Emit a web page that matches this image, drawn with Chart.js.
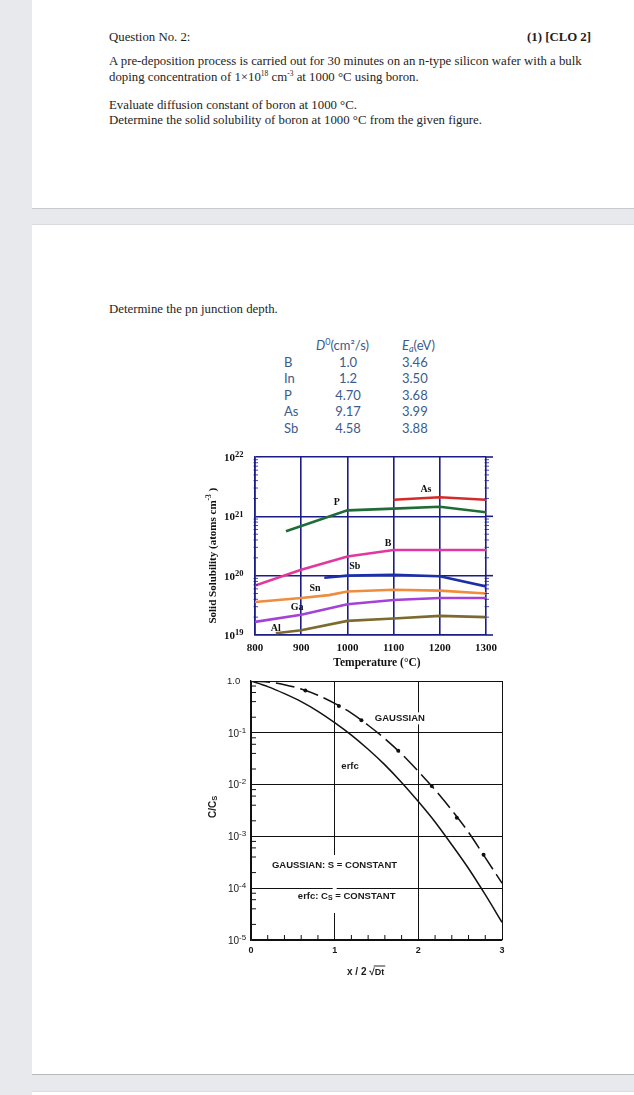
<!DOCTYPE html>
<html>
<head>
<meta charset="utf-8">
<script src="https://cdn.jsdelivr.net/npm/chart.js@4.4.0/dist/chart.umd.min.js"></script>
<style>
  html, body { margin: 0; padding: 0; }
  body { width: 634px; height: 1095px; overflow: hidden; background: #fff; position: relative; }
  .strip { position: absolute; left: 0; top: 0; width: 32px; height: 1095px; background: #e8e9ec; }
  .band { position: absolute; left: 32px; width: 602px; background: #e8e9ec; }
  .t { position: absolute; font-family: "Liberation Serif", serif; font-size: 12.8px; line-height: 15px; color: #1e1e1e; white-space: nowrap; }
  .t sup { font-size: 7.5px; vertical-align: 5px; line-height: 0; }
  .tb { position: absolute; font-family: "Lato", sans-serif; font-size: 13px; line-height: 16px; color: #3b5b8c; white-space: nowrap; }
  .tb sup { font-size: 9px; vertical-align: 5px; line-height: 0; }
  .tb sub { font-size: 9px; vertical-align: -2px; line-height: 0; }
  canvas { position: absolute; }
</style>
</head>
<body>
<div class="strip"></div>
<div class="band" style="top:208px;height:15px;border-top:1px solid #c8c9cc;border-bottom:1px solid #d9dadd;"></div>
<div class="band" style="top:1074px;height:16px;border-top:1px solid #b8b9bc;border-bottom:1px solid #dcdde0;"></div>

<div class="t" style="left:109px;top:30px;">Question No. 2:</div>
<div class="t" style="right:43px;top:30px;font-weight:bold;">(1) [CLO 2]</div>
<div class="t" style="left:109px;top:54px;">A pre-deposition process is carried out for 30 minutes on an n-type silicon wafer with a bulk</div>
<div class="t" style="left:109px;top:70px;">doping concentration of 1×10<sup>18</sup> cm<sup>-3</sup> at 1000 °C using boron.</div>
<div class="t" style="left:109px;top:98px;">Evaluate diffusion constant of boron at 1000 °C.</div>
<div class="t" style="left:109px;top:113px;">Determine the solid solubility of boron at 1000 °C from the given figure.</div>
<div class="t" style="left:109px;top:302px;">Determine the pn junction depth.</div>

<div id="tbl"></div>

<canvas id="c1" width="300" height="240" style="left:200px;top:440px;"></canvas>
<canvas id="c2" width="310" height="320" style="left:200px;top:670px;"></canvas>

<script>
// ---- table data ----
const elements = ["B", "In", "P", "As", "Sb"];
const d0 = ["1.0", "1.2", "4.70", "9.17", "4.58"];
const ea = ["3.46", "3.50", "3.68", "3.99", "3.88"];

// ---- solid solubility (atoms/cm3) vs temperature (C) ----
const asT = [1100, 1200, 1300];
const asV = [1.9e21, 2.1e21, 1.9e21];
const pT = [867, 1000, 1100, 1200, 1300];
const pV = [5.6e20, 1.26e21, 1.35e21, 1.45e21, 1.17e21];
const bT = [800, 900, 1000, 1100, 1200, 1300];
const bV = [6.8e19, 1.26e20, 2.1e20, 2.7e20, 2.7e20, 2.7e20];
const sbT = [950, 1000, 1100, 1200, 1300];
const sbV = [9.2e19, 1.0e20, 1.03e20, 9.8e19, 6.6e19];
const snT = [800, 900, 960, 1000, 1100, 1200, 1300];
const snV = [3.6e19, 4.2e19, 4.7e19, 5.4e19, 5.8e19, 5.6e19, 5.0e19];
const gaT = [800, 900, 1000, 1100, 1200, 1300];
const gaV = [1.66e19, 2.2e19, 3.3e19, 3.9e19, 4.2e19, 4.2e19];
const alT = [845, 900, 1000, 1100, 1200, 1300];
const alV = [1.07e19, 1.2e19, 1.73e19, 1.9e19, 2.1e19, 2.0e19];
const tempTicks = [800, 900, 1000, 1100, 1200, 1300];
const solDecades = [19, 20, 21, 22];

// ---- c/cs vs x/2sqrt(Dt) ----
const uVals = [0, 0.2, 0.4, 0.6, 0.8, 1.0, 1.2, 1.4, 1.6, 1.8, 2.0, 2.2, 2.4, 2.6, 2.8, 3.0];
const erfcV = [1, 0.78, 0.57, 0.40, 0.26, 0.157, 0.090, 0.048, 0.024, 0.011, 0.0047, 0.0019, 0.00069, 0.00024, 0.000075, 0.000022];
const gaussV = [1, 0.96, 0.85, 0.70, 0.53, 0.37, 0.24, 0.14, 0.077, 0.039, 0.018, 0.0079, 0.0032, 0.0012, 0.00039, 0.000125];
const dotU = [0.65, 1.05, 1.32, 1.76, 2.16, 2.46, 2.78];
const dotV = [0.655, 0.33, 0.175, 0.045, 0.0094, 0.0023, 0.00044];
const uTicks = [0, 1, 2, 3];
const ratioDecades = [0, -1, -2, -3, -4, -5];

// table
(function () {
  const tbl = document.getElementById('tbl');
  let html = '<div class="tb" style="left:316px;top:337px;"><i>D</i><sup>0</sup>(cm²/s)</div>' +
             '<div class="tb" style="left:402px;top:337px;"><i>E</i><sub><i>a</i></sub>(eV)</div>';
  elements.forEach((el, i) => {
    const top = 353.5 + i * 16.5;
    html += `<div class="tb" style="left:284px;top:${top}px;">${el}</div>`;
    html += `<div class="tb" style="left:318px;width:60px;text-align:center;top:${top}px;">${d0[i]}</div>`;
    html += `<div class="tb" style="left:402px;top:${top}px;">${ea[i]}</div>`;
  });
  tbl.innerHTML = html;
})();

const pts = (xs, ys) => xs.map((x, i) => ({ x: x, y: ys[i] }));
const isDecade = v => Math.abs(Math.log10(v) - Math.round(Math.log10(v))) < 1e-6;

// draws pieces of text one after the other: [text, font, dy]
function runText(ctx, x, y, parts) {
  parts.forEach(p => {
    ctx.font = p[1];
    ctx.fillText(p[0], x, y + (p[2] || 0));
    x += ctx.measureText(p[0]).width;
  });
}

// ================= chart 1 =================
const NAVY = '#1c1c88';
const serifB = s => `bold ${s}px "Liberation Serif", serif`;

const solLabels = [
  { t: 'As', x: 1170, y: 2.8e21 }, { t: 'P', x: 977, y: 1.7e21 }, { t: 'B', x: 1088, y: 3.5e20 },
  { t: 'Sb', x: 1016, y: 1.45e20 }, { t: 'Sn', x: 930, y: 6.2e19 }, { t: 'Ga', x: 891, y: 2.95e19 },
  { t: 'Al', x: 845, y: 1.3e19 }
];

const solDecor = {
  id: 'solDecor',
  afterDraw(chart) {
    const { ctx, chartArea: a } = chart;
    const xs = chart.scales.x, ys = chart.scales.y;
    ctx.save();
    ctx.strokeStyle = NAVY;
    // extend decade lines a little past right axis
    ctx.lineWidth = 1.6;
    solDecades.forEach(d => {
      const y = ys.getPixelForValue(Math.pow(10, d));
      ctx.beginPath(); ctx.moveTo(a.right, y); ctx.lineTo(a.right + 7, y); ctx.stroke();
    });
    // minor log ticks on both vertical axes
    ctx.lineWidth = 0.8;
    for (let d = 19; d < 22; d++) {
      for (let m = 2; m <= 9; m++) {
        const y = ys.getPixelForValue(m * Math.pow(10, d));
        [a.left, a.right].forEach(x0 => {
          ctx.beginPath(); ctx.moveTo(x0 - 1.5, y); ctx.lineTo(x0 + 3, y); ctx.stroke();
        });
      }
    }
    ctx.fillStyle = '#111';
    // y tick labels 10^n
    ctx.textAlign = 'left'; ctx.textBaseline = 'middle';
    solDecades.forEach(d => {
      const y = ys.getPixelForValue(Math.pow(10, d));
      runText(ctx, 24, y + 1, [['10', serifB(11), 0], [String(d), serifB(8.5), -3]]);
    });
    // x tick labels
    ctx.font = serifB(11);
    ctx.textAlign = 'center'; ctx.textBaseline = 'middle';
    tempTicks.forEach(t => ctx.fillText(String(t), xs.getPixelForValue(t), a.bottom + 13));
    // x title
    ctx.font = serifB(11.5);
    ctx.fillText('Temperature (°C)', 177, 223);
    // y title
    ctx.save();
    ctx.translate(13, 114);
    ctx.rotate(-Math.PI / 2);
    ctx.textAlign = 'left';
    ctx.font = serifB(11);
    const w = ctx.measureText('Solid Solubility (atoms cm').width + 16;
    runText(ctx, -w / 2, 0, [['Solid Solubility (atoms cm', serifB(11), 0], ['-3', serifB(7.5), -4], [' )', serifB(11), 0]]);
    ctx.restore();
    // series labels
    ctx.font = serifB(10);
    ctx.textAlign = 'center';
    solLabels.forEach(l => ctx.fillText(l.t, xs.getPixelForValue(l.x), ys.getPixelForValue(l.y)));
    ctx.restore();
  }
};

const line = (label, xs, ys, color) => ({
  label: label, data: pts(xs, ys), borderColor: color, borderWidth: 2.6,
  pointRadius: 0, showLine: true, fill: false, tension: 0
});

new Chart(document.getElementById('c1').getContext('2d'), {
  type: 'scatter',
  data: {
    datasets: [
      line('As', asT, asV, '#d52a2c'),
      line('P', pT, pV, '#1f6c36'),
      line('B', bT, bV, '#e2379d'),
      line('Sb', sbT, sbV, '#1c2fa8'),
      line('Sn', snT, snV, '#ef8c3e'),
      line('Ga', gaT, gaV, '#a242d6'),
      line('Al', alT, alV, '#7c6a2e')
    ]
  },
  options: {
    responsive: false, animation: false, devicePixelRatio: 1,
    layout: { padding: { left: 55, right: 14, top: 17, bottom: 45 } },
    plugins: { legend: { display: false }, tooltip: { enabled: false } },
    scales: {
      x: {
        type: 'linear', min: 800, max: 1300,
        ticks: { display: false, stepSize: 100 },
        grid: { color: NAVY, lineWidth: 1.6, drawTicks: false },
        border: { color: NAVY, width: 1.6 }
      },
      y: {
        type: 'logarithmic', min: 1e19, max: 1e22,
        ticks: { display: false },
        grid: { color: c => isDecade(c.tick.value) ? NAVY : 'rgba(0,0,0,0)', lineWidth: 1.6, drawTicks: false },
        border: { color: NAVY, width: 1.6 }
      }
    }
  },
  plugins: [solDecor]
});

// ================= chart 2 =================
const sans = (s, w) => `${w || 'normal'} ${s}px "Liberation Sans", Arial, sans-serif`;

const profLabels = [
  { t: 'GAUSSIAN', x: 1.48, y: 0.19 },
  { t: 'erfc', x: 1.08, y: 0.022 },
  { t: 'GAUSSIAN: S = CONSTANT', x: 0.25, y: 2.7e-4 }
];

const profDecor = {
  id: 'profDecor',
  afterDraw(chart) {
    const { ctx, chartArea: a } = chart;
    const xs = chart.scales.x, ys = chart.scales.y;
    ctx.save();
    ctx.strokeStyle = '#111';
    ctx.lineWidth = 1;
    // minor ticks, left axis
    ratioDecades.slice(1).forEach(d => {
      [2, 4, 6, 8].forEach(m => {
        const y = ys.getPixelForValue(m * Math.pow(10, d));
        ctx.beginPath(); ctx.moveTo(a.left, y); ctx.lineTo(a.left + 5, y); ctx.stroke();
      });
    });
    // minor ticks, bottom axis
    for (let k = 1; k < 15; k++) {
      if (k % 5 === 0) continue;
      const x = xs.getPixelForValue(k * 0.2);
      ctx.beginPath(); ctx.moveTo(x, a.bottom); ctx.lineTo(x, a.bottom - 5); ctx.stroke();
    }
    // gaps in gridlines behind the notes
    ctx.fillStyle = '#fff';
    ctx.fillRect(xs.getPixelForValue(1) - 2, 185, 4, 58);
    ctx.fillRect(xs.getPixelForValue(2) - 2, ys.getPixelForValue(0.19) - 6, 4, 12);
    ctx.fillStyle = '#1a1a1a';
    // y tick labels
    ctx.textBaseline = 'middle'; ctx.textAlign = 'left';
    ratioDecades.forEach(d => {
      const y = ys.getPixelForValue(Math.pow(10, d));
      if (d === 0) {
        ctx.font = sans(9.5); ctx.fillText('1.0', 27, y);
      } else {
        runText(ctx, 28, y + 1, [['10', sans(10), 0], [String(d), sans(8), -3.5]]);
      }
    });
    // x tick labels
    ctx.font = sans(9, 'bold'); ctx.textAlign = 'center';
    uTicks.forEach(u => ctx.fillText(String(u), xs.getPixelForValue(u), a.bottom + 11));
    // notes
    ctx.textAlign = 'left';
    ctx.font = sans(9.5, 'bold');
    profLabels.forEach(l => ctx.fillText(l.t, xs.getPixelForValue(l.x), ys.getPixelForValue(l.y)));
    runText(ctx, xs.getPixelForValue(0.56), ys.getPixelForValue(7e-5),
      [['erfc: C', sans(9.5, 'bold'), 0], ['S', sans(7, 'bold'), 2], [' = CONSTANT', sans(9.5, 'bold'), 0]]);
    // y title
    ctx.save();
    ctx.translate(13, 135);
    ctx.rotate(-Math.PI / 2);
    ctx.textAlign = 'left';
    runText(ctx, -13, 0, [['C/C', sans(10, 'bold'), 0], ['S', sans(7.5, 'bold'), 2]]);
    ctx.restore();
    // x title  x / 2 sqrt(Dt)
    ctx.textAlign = 'left';
    const tx = 147, ty = 302;
    ctx.font = sans(10, 'bold');
    const w1 = ctx.measureText('x / 2 \u221A').width;
    ctx.font = sans(9, 'bold');
    const w2 = ctx.measureText('Dt').width;
    runText(ctx, tx, ty, [['x / 2 \u221A', sans(10, 'bold'), 0], ['Dt', sans(9, 'bold'), 0.5]]);
    ctx.lineWidth = 0.9;
    ctx.beginPath(); ctx.moveTo(tx + w1 - 1, ty - 6); ctx.lineTo(tx + w1 + w2 + 1, ty - 6); ctx.stroke();
    ctx.restore();
  }
};

new Chart(document.getElementById('c2').getContext('2d'), {
  type: 'scatter',
  data: {
    datasets: [
      { label: 'erfc', data: pts(uVals, erfcV), showLine: true, borderColor: '#111', borderWidth: 1.5,
        pointRadius: 0, cubicInterpolationMode: 'monotone' },
      { label: 'gaussian', data: pts(uVals, gaussV), showLine: true, borderColor: '#111', borderWidth: 1.5,
        borderDash: [19, 6], pointRadius: 0, cubicInterpolationMode: 'monotone' },
      { label: 'dots', data: pts(dotU, dotV), showLine: false, pointRadius: 2, pointBackgroundColor: '#111',
        pointBorderWidth: 0 }
    ]
  },
  options: {
    responsive: false, animation: false, devicePixelRatio: 1,
    layout: { padding: { left: 51, right: 8, top: 11, bottom: 50 } },
    plugins: { legend: { display: false }, tooltip: { enabled: false } },
    scales: {
      x: {
        type: 'linear', min: 0, max: 3,
        ticks: { display: false, stepSize: 1 },
        grid: { color: '#111', lineWidth: 1, drawTicks: false },
        border: { color: '#111', width: 1.3 }
      },
      y: {
        type: 'logarithmic', min: 1e-5, max: 1,
        ticks: { display: false },
        grid: { color: c => isDecade(c.tick.value) ? '#111' : 'rgba(0,0,0,0)', lineWidth: 1, drawTicks: false },
        border: { color: '#111', width: 1.3 }
      }
    }
  },
  plugins: [profDecor]
});
</script>
</body>
</html>
